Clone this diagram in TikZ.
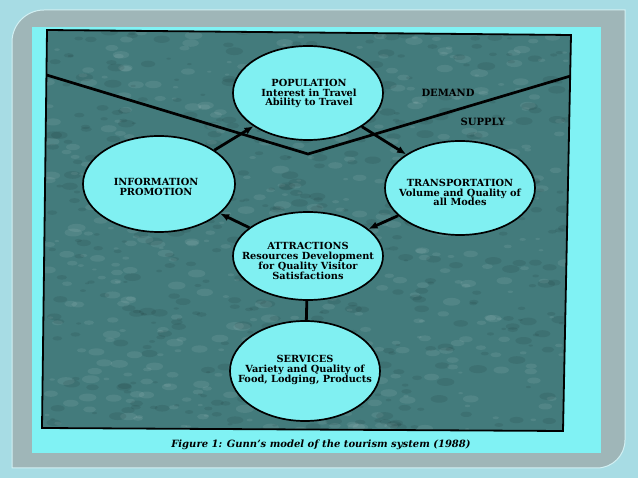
\documentclass[tikz,border=0pt]{standalone}
\usepackage{fontspec}
\setmainfont{DejaVu Serif}
\usetikzlibrary{shapes.geometric,arrows.meta}
\definecolor{bgblue}{HTML}{A7DCE4}
\definecolor{panelgray}{HTML}{9FB6B8}
\definecolor{paneledge}{HTML}{D2F0F3}
\definecolor{papercyan}{HTML}{80F2F4}
\definecolor{boardteal}{HTML}{437B7C}
\definecolor{ellcyan}{HTML}{80F0F2}
\tikzset{
  bubble/.style={ellipse, draw=black, line width=1.7pt, fill=ellcyan, inner sep=0pt},
  btext/.style={align=center, font=\bfseries\fontsize{9.8}{9.8}\selectfont, inner sep=0pt},
  divider/.style={line width=2.7pt, line join=miter},
  flow/.style={line width=2.8pt, -{Latex[length=9pt,width=7.5pt]}},
  link/.style={line width=2.8pt},
  tag/.style={font=\bfseries\fontsize{10}{10}\selectfont, inner sep=0pt},
  captext/.style={font=\bfseries\itshape\fontsize{10}{10}\selectfont, inner sep=0pt},
}
\begin{document}
\begin{tikzpicture}[x=1pt,y=-1pt]
\useasboundingbox (0,0) rectangle (638,478);
\fill[bgblue] (0,0) rectangle (638,478);
% slide panel
\filldraw[fill=panelgray, draw=paneledge, line width=1pt]
  (12,468) -- (12,200) [rounded corners=32pt] -- (12,10) -- (300,10) [sharp corners]
  -- (625,10) -- (625,300) [rounded corners=28pt] -- (625,468) -- (300,468) [sharp corners] -- cycle;
% paper
\fill[papercyan] (32,27) rectangle (601,453);
% board
\fill[boardteal] (47,30) -- (571,35) -- (563,431) -- (42,428) -- cycle;
\begin{scope}
  \clip (47,30) -- (571,35) -- (563,431) -- (42,428) -- cycle;
  \pgfmathsetseed{7}
  \foreach \i in {1,...,500}{
    \pgfmathsetmacro\xx{47+rnd*520}
    \pgfmathsetmacro\yy{30+rnd*400}
    \pgfmathsetmacro\rr{2+rnd*7}
    \fill[white, opacity=0.08] (\xx,\yy) ellipse ({\rr pt} and {0.45*\rr pt});
  }
  \foreach \i in {1,...,500}{
    \pgfmathsetmacro\xx{47+rnd*520}
    \pgfmathsetmacro\yy{30+rnd*400}
    \pgfmathsetmacro\rr{2+rnd*7}
    \fill[black, opacity=0.08] (\xx,\yy) ellipse ({\rr pt} and {0.45*\rr pt});
  }
\end{scope}
\draw[black, line width=1.8pt] (47,30) -- (571,35) -- (563,431) -- (42,428) -- cycle;
% demand / supply divider
\coordinate (dl) at (46.6,75);
\coordinate (dv) at (308,154);
\coordinate (dr) at (570.5,76);
\draw[divider] (dl) -- (dv) -- (dr);
\node[tag] (dem) at (448,93) {DEMAND};
\node[tag] (sup) at (483,122) {SUPPLY};
% bubbles
\node[bubble, minimum width=150pt, minimum height=94pt] (pop) at (308,93) {};
\node[bubble, minimum width=152pt, minimum height=96pt] (info) at (159,184) {};
\node[bubble, minimum width=150pt, minimum height=94pt] (trans) at (460,188) {};
\node[bubble, minimum width=150pt, minimum height=88pt] (attr) at (308,256) {};
\node[bubble, minimum width=150pt, minimum height=100pt] (serv) at (305,371) {};
% texts
\node[btext] (popt) at (309,93.5) {POPULATION\\Interest in Travel\\Ability to Travel};
\node[btext] (infot) at (156,187) {INFORMATION\\PROMOTION};
\node[btext] (transt) at (460,192.5) {TRANSPORTATION\\Volume and Quality of\\all Modes};
\node[btext] (attrt) at (308,261) {ATTRACTIONS\\Resources Development\\for Quality Visitor\\Satisfactions};
\node[btext] (servt) at (305,370) {SERVICES\\Variety and Quality of\\Food, Lodging, Products};
% connectors
\draw[flow] (info) -- (pop);
\draw[flow] (pop) -- (trans);
\draw[flow] (trans) -- (attr);
\draw[flow] (attr) -- (info);
\draw[link] (attr) -- (serv);
% caption
\node[captext] (cap) at (321,445) {Figure 1: Gunn's model of the tourism system (1988)};
\end{tikzpicture}
\end{document}
